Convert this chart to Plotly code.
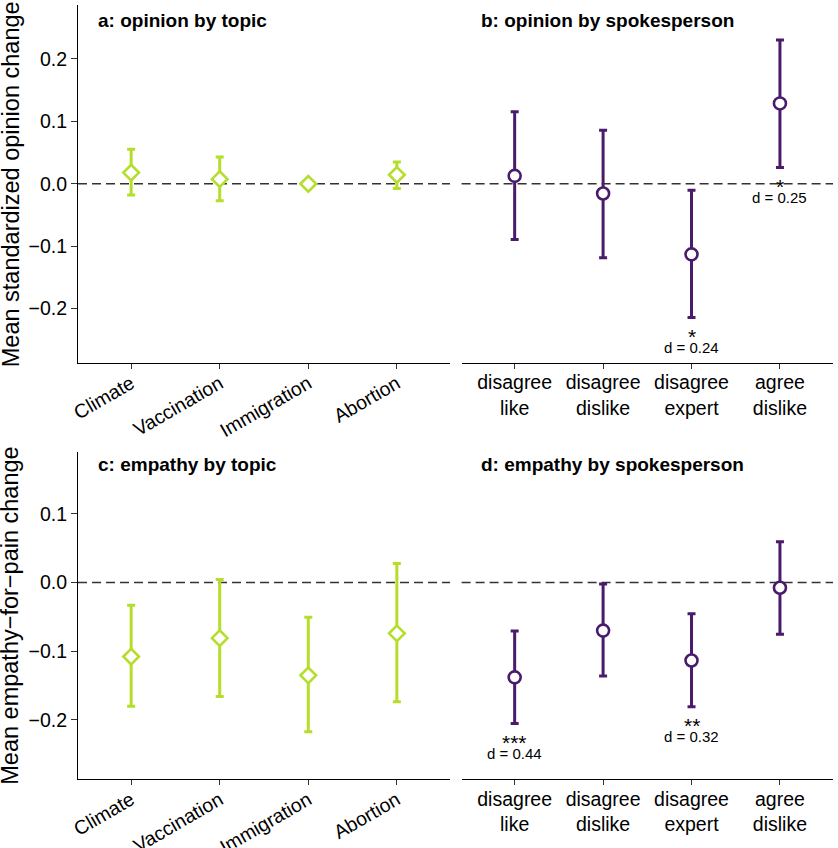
import plotly.graph_objects as go

# ---------------- data ----------------
topics = ["Climate", "Vaccination", "Immigration", "Abortion"]
speakers = ["disagree like", "disagree dislike", "disagree expert", "agree dislike"]
speaker_labels = ["disagree<br>like", "disagree<br>dislike", "disagree<br>expert", "agree<br>dislike"]

# panel a: opinion by topic
a_mean = [0.018, 0.0075, 0.0, 0.0145]
a_upper = [0.0556, 0.043, 0.004, 0.035]
a_lower = [-0.018, -0.027, -0.004, -0.0075]

# panel b: opinion by spokesperson
b_mean = [0.0128, -0.0155, -0.113, 0.1288]
b_upper = [0.1154, 0.086, -0.0101, 0.2303]
b_lower = [-0.089, -0.1186, -0.214, 0.0263]
b_sig = ["", "", "*", "*"]
b_d = ["", "", "d = 0.24", "d = 0.25"]

# panel c: empathy by topic
c_mean = [-0.1077, -0.081, -0.135, -0.074]
c_upper = [-0.0333, 0.0043, -0.0507, 0.0275]
c_lower = [-0.180, -0.166, -0.217, -0.1734]

# panel d: empathy by spokesperson
d_mean = [-0.138, -0.070, -0.1135, -0.0077]
d_upper = [-0.0705, -0.0024, -0.0454, 0.0594]
d_lower = [-0.205, -0.136, -0.1807, -0.0754]
d_sig = ["***", "", "**", ""]
d_d = ["d = 0.44", "", "d = 0.32", ""]

top_ticks = [-0.2, -0.1, 0.0, 0.1, 0.2]
top_ticktext = ["\u22120.2", "\u22120.1", "0.0", "0.1", "0.2"]
bot_ticks = [-0.2, -0.1, 0.0, 0.1]
bot_ticktext = ["\u22120.2", "\u22120.1", "0.0", "0.1"]

titles = ["a: opinion by topic", "b: opinion by spokesperson",
          "c: empathy by topic", "d: empathy by spokesperson"]
ylab_top = "Mean standardized opinion change"
ylab_bot = "Mean empathy\u2212for\u2212pain change"

# ---------------- style ----------------
GREEN = "#b5de2b"
PURPLE = "#4a1b6c"
FONT = "Liberation Sans"

fig = go.Figure()


def add_panel(x, mean, upper, lower, xa, ya, color, symbol, size):
    fig.add_trace(go.Scatter(
        x=x, y=mean, mode="markers", xaxis=xa, yaxis=ya, showlegend=False,
        marker=dict(symbol=symbol, size=size, color="white",
                    line=dict(color=color, width=2.6)),
        error_y=dict(type="data", symmetric=False,
                     array=[u - m for u, m in zip(upper, mean)],
                     arrayminus=[m - l for m, l in zip(mean, lower)],
                     color=color, thickness=3, width=4),
    ))


add_panel(topics, a_mean, a_upper, a_lower, "x", "y", GREEN, "diamond", 12)
add_panel(speaker_labels, b_mean, b_upper, b_lower, "x2", "y2", PURPLE, "circle", 12)
add_panel(topics, c_mean, c_upper, c_lower, "x3", "y3", GREEN, "diamond", 12)
add_panel(speaker_labels, d_mean, d_upper, d_lower, "x4", "y4", PURPLE, "circle", 12)

annotations = []
for xa, ya, sigs, ds, lows in [("x2", "y2", b_sig, b_d, b_lower),
                               ("x4", "y4", d_sig, d_d, d_lower)]:
    for cat, s, dd, lo in zip(speaker_labels, sigs, ds, lows):
        if s:
            annotations.append(dict(x=cat, y=lo, xref=xa, yref=ya, text=s,
                                    showarrow=False, yshift=-19, yanchor="middle",
                                    font=dict(family=FONT, size=21, color="black")))
        if dd:
            annotations.append(dict(x=cat, y=lo, xref=xa, yref=ya, text=dd,
                                    showarrow=False, yshift=-30, yanchor="middle",
                                    font=dict(family=FONT, size=15, color="black")))

for t, xa, ya, yy in [(titles[0], "x", "y", 0.958), (titles[1], "x2", "y2", 0.958),
                      (titles[2], "x3", "y3", 0.9615), (titles[3], "x4", "y4", 0.9615)]:
    annotations.append(dict(text="<b>" + t + "</b>", xref=xa + " domain", yref=ya + " domain",
                            x=0.048, y=yy, xanchor="left", yanchor="middle", showarrow=False,
                            font=dict(family=FONT, size=19, color="black")))

for lab, yy in [(ylab_top, 0.769), (ylab_bot, 0.2115)]:
    annotations.append(dict(text=lab, xref="paper", yref="paper", x=-0.0895, y=yy,
                            xanchor="center", yanchor="middle", textangle=-90,
                            showarrow=False,
                            font=dict(family=FONT, size=23.5, color="black")))

shapes = []
for xa, ya in [("x", "y"), ("x2", "y2"), ("x3", "y3"), ("x4", "y4")]:
    shapes.append(dict(type="line", xref=xa + " domain", yref=ya, x0=0, x1=1, y0=0, y1=0,
                       line=dict(color="#333333", width=1.5, dash="9px,5px"), layer="below"))

tickfont = dict(family=FONT, size=19.5, color="black")
xdom_a = [0, 0.4927]
xdom_b = [0.5081, 1]
ydom_top = [0.5379, 1]
ydom_bot = [0, 0.4229]

xcommon = dict(showline=True, linecolor="black", linewidth=1.2, ticks="outside",
               ticklen=5, tickwidth=1.2, tickcolor="#333333", showgrid=False,
               zeroline=False, tickfont=tickfont, range=[-0.6, 3.6], type="category",
               automargin=False)
ycommon = dict(showgrid=False, zeroline=False, tickfont=tickfont, automargin=False)

fig.update_layout(
    template="none",
    width=838, height=848,
    margin=dict(l=78, r=5, t=5, b=69, autoexpand=False),
    paper_bgcolor="white", plot_bgcolor="white",
    font=dict(family=FONT, color="black"),
    showlegend=False,
    xaxis=dict(domain=xdom_a, anchor="y", tickangle=-30, ticklabelstandoff=-4, **xcommon),
    xaxis2=dict(domain=xdom_b, anchor="y2", tickangle=0, ticklabelstandoff=-3, **xcommon),
    xaxis3=dict(domain=xdom_a, anchor="y3", tickangle=-30, ticklabelstandoff=-4, **xcommon),
    xaxis4=dict(domain=xdom_b, anchor="y4", tickangle=0, ticklabelstandoff=-3, **xcommon),
    yaxis=dict(domain=ydom_top, anchor="x", range=[-0.2865, 0.2865],
               tickvals=top_ticks, ticktext=top_ticktext, showline=True,
               linecolor="black", linewidth=1.2, ticks="outside", ticklen=6,
               tickwidth=1.2, tickcolor="#333333", **ycommon),
    yaxis2=dict(domain=ydom_top, anchor="x2", range=[-0.2865, 0.2865],
                showticklabels=False, showline=False, ticks="", **ycommon),
    yaxis3=dict(domain=ydom_bot, anchor="x3", range=[-0.2858, 0.1902],
                tickvals=bot_ticks, ticktext=bot_ticktext, showline=True,
                linecolor="black", linewidth=1.2, ticks="outside", ticklen=6,
                tickwidth=1.2, tickcolor="#333333", **ycommon),
    yaxis4=dict(domain=ydom_bot, anchor="x4", range=[-0.2858, 0.1902],
                showticklabels=False, showline=False, ticks="", **ycommon),
    annotations=annotations,
    shapes=shapes,
)

fig.write_html("out.html", config={"displayModeBar": False},
               post_script="document.body.style.margin='0px';")
